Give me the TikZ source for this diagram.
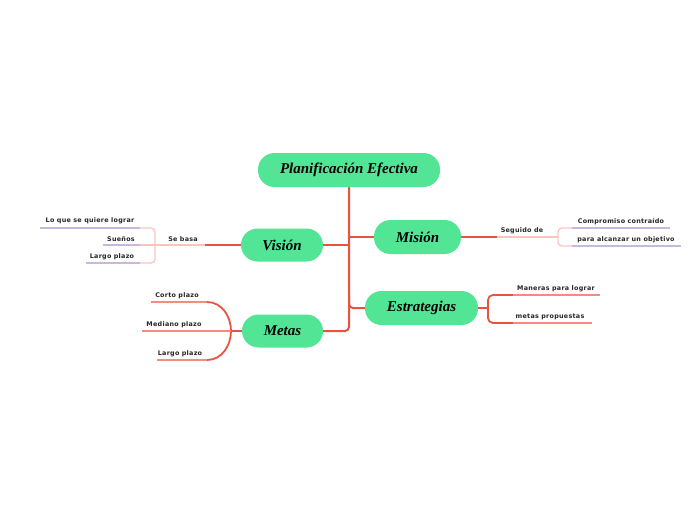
\documentclass[tikz,border=0pt]{standalone}
\usepackage{fontspec}
\setmainfont{DejaVu Sans}[LetterSpace=4]
\newfontfamily\titlefont{Liberation Serif}
\definecolor{mgreen}{RGB}{82,229,150}
\definecolor{mred}{RGB}{232,83,63}
\definecolor{lred}{RGB}{242,140,126}
\definecolor{pinkl}{RGB}{248,196,192}
\definecolor{purpl}{RGB}{200,184,222}
\begin{document}
\begin{tikzpicture}[x=1pt,y=-1pt,
  topic/.style={fill=mgreen, rounded corners=16.5pt, minimum height=34pt, inner sep=0pt,
    font=\titlefont\bfseries\itshape\fontsize{15}{17}\selectfont, text=black},
  lbl/.style={inner sep=0pt, font=\bfseries\fontsize{6.4}{7.5}\selectfont, text=black!85},
  mainline/.style={draw=mred, line width=2pt},
  redline/.style={draw=mred, line width=1.8pt},
  pinkline/.style={draw=pinkl, line width=1.3pt},
  purline/.style={draw=purpl, line width=1.2pt},
  lredline/.style={draw=lred, line width=1.2pt}]
\useasboundingbox (0,0) rectangle (697,520);

% main topics
\node[topic, minimum width=182pt] (plan) at (349,170) {Planificación Efectiva};
\node[topic, minimum width=87pt] (mision) at (417.5,237) {Misión};
\node[topic, minimum width=82pt, minimum height=33pt] (vision) at (282,245) {Visión};
\node[topic, minimum width=113pt] (estr) at (421.5,308) {Estrategias};
\node[topic, minimum width=81pt, minimum height=33pt] (metas) at (282.5,331) {Metas};

% trunk
\coordinate (tv) at (349,245);
\coordinate (tm) at (349,237);
\coordinate (te) at (349,296);
\draw[mainline, rounded corners=4pt] (plan.south) |- (metas.east);
\draw[mainline] (tm) -- (mision.west);
\draw[mainline] (vision.east) -- (tv);
\draw[mainline, rounded corners=4pt] (te) |- (estr.west);

% Vision subtree
\coordinate (sb1) at (205,245);
\coordinate (sb2) at (155,245);
\coordinate (v1a) at (40,228);  \coordinate (v1b) at (140,228);
\coordinate (v2a) at (103,245); \coordinate (v2b) at (140,245);
\coordinate (v3a) at (86,263);  \coordinate (v3b) at (140,263);
\coordinate (vbr) at (155,263);
\draw[redline] (vision.west) -- (sb1);
\draw[pinkline] (sb1) -- (sb2);
\node[lbl] (sebasa) at (183,239) {Se basa};
\draw[pinkline, rounded corners=4pt] (v1b) -| (vbr) -- (v3b);
\draw[pinkline] (v2b) -- (sb2);
\draw[purline] (v1a) -- (v1b);
\draw[purline] (v2a) -- (v2b);
\draw[purline] (v3a) -- (v3b);
\node[lbl] (v1) at (90,221) {Lo que se quiere lograr};
\node[lbl] (v2) at (121,239) {Sueños};
\node[lbl] (v3) at (112,257) {Largo plazo};

% Mision subtree
\coordinate (sd1) at (497,237);
\coordinate (sd2) at (558,237);
\coordinate (m1a) at (572,228); \coordinate (m1b) at (670,228);
\coordinate (m2a) at (572,246); \coordinate (m2b) at (681,246);
\coordinate (mbr) at (558,246);
\draw[redline] (mision.east) -- (sd1);
\draw[pinkline] (sd1) -- (sd2);
\node[lbl] (seguido) at (522,230.5) {Seguido de};
\draw[pinkline, rounded corners=4pt] (m1a) -| (mbr) -- (m2a);
\draw[purline] (m1a) -- (m1b);
\draw[purline] (m2a) -- (m2b);
\node[lbl] (m1) at (621,221.5) {Compromiso contraído};
\node[lbl] (m2) at (626,240) {para alcanzar un objetivo};

% Estrategias subtree
\coordinate (ej) at (488,308);
\coordinate (e1a) at (513,295); \coordinate (e1b) at (600,295);
\coordinate (e2a) at (513,323); \coordinate (e2b) at (592,323);
\coordinate (ebr) at (488,323);
\draw[redline] (estr.east) -- (ej);
\draw[redline, rounded corners=5pt] (e1a) -| (ebr) -- (e2a);
\draw[lredline] (e1a) -- (e1b);
\draw[lredline] (e2a) -- (e2b);
\node[lbl] (e1) at (556,288.5) {Maneras para lograr};
\node[lbl] (e2) at (550,317) {metas propuestas};

% Metas subtree
\coordinate (t1a) at (151,302); \coordinate (t1b) at (207,302);
\coordinate (t2a) at (142,331); \coordinate (t2b) at (231,331);
\coordinate (t3a) at (157,360); \coordinate (t3b) at (207,360);
\draw[redline] (t1b) to[out=0,in=90] (t2b) to[out=-90,in=0] (t3b);
\draw[redline] (metas.west) -- (t2b);
\draw[lredline] (t1a) -- (t1b);
\draw[lredline] (t2a) -- (t2b);
\draw[lredline] (t3a) -- (t3b);
\node[lbl] (t1) at (177,296) {Corto plazo};
\node[lbl] (t2) at (174,325) {Mediano plazo};
\node[lbl] (t3) at (180,354) {Largo plazo};
\end{tikzpicture}
\end{document}
